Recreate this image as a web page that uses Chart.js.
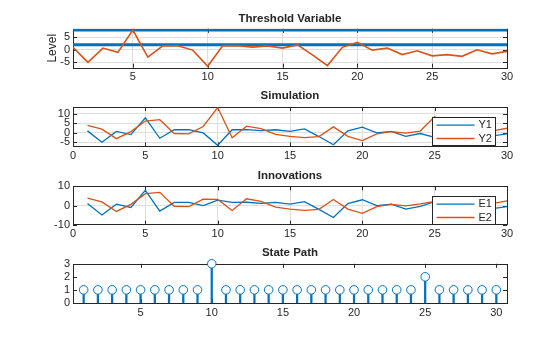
<!DOCTYPE html>
<html lang="en">
<head>
<meta charset="UTF-8" />
<title>Threshold model simulation</title>
<script src="https://cdn.jsdelivr.net/npm/chart.js"></script>
<style>
  body { margin: 0; background: #fff; }
  .fig { position: relative; width: 560px; height: 337px; }
  .fig canvas { position: absolute; left: 0; }
</style>
</head>
<body>
<div class="fig">
  <canvas id="cThresh" width="560" height="80" style="top:0px"></canvas>
  <canvas id="cSim" width="560" height="80" style="top:80px"></canvas>
  <canvas id="cInnov" width="560" height="80" style="top:160px"></canvas>
  <canvas id="cState" width="560" height="97" style="top:240px"></canvas>
</div>

<script>
  // values
  const steps = [1, 2, 3, 4, 5, 6, 7, 8, 9, 10, 11, 12, 13, 14, 15, 16, 17, 18, 19, 20, 21, 22, 23, 24, 25, 26, 27, 28, 29, 30];
  const simY1 = [1.0, -5.0, 0.7, -1.0, 7.9, -2.9, 1.6, 1.6, -0.1, -6.6, 1.6, 1.7, 1.1, 1.6, 0.7, 2.0, -2.0, -6.3, 1.0, 3.0, -0.1, 0.7, -1.9, -0.4, -2.4, -1.9, -2.6, 0.0, -1.6, -0.6];
  const simY2 = [3.9, 1.9, -3.1, 0.6, 6.2, 6.9, -0.4, -0.6, 3.3, 13.3, -2.6, 3.5, 2.2, -0.9, -1.9, -2.6, -2.0, 3.1, -1.9, -4.1, -0.6, 0.6, -0.2, 0.9, 8.5, 2.5, 1.8, 0.5, 1.0, 2.4];
  const innovE1 = [1.0, -5.0, 0.7, -1.0, 7.9, -2.9, 1.6, 1.6, -0.1, 2.8, 1.6, 1.7, 1.1, 1.6, 0.7, 2.0, -2.0, -6.3, 1.0, 3.0, -0.1, 0.7, -1.9, -0.4, 2.0, -1.9, -2.6, 0.0, -1.6, -0.6];
  const innovE2 = [3.9, 1.9, -3.1, 0.6, 6.2, 6.9, -0.4, -0.6, 3.3, 3.2, -2.6, 3.5, 2.2, -0.9, -1.9, -2.6, -2.0, 3.1, -1.9, -4.1, -0.6, 0.6, -0.2, 0.9, 2.2, 2.5, 1.8, 0.5, 1.0, 2.4];
  const statePath = [1, 1, 1, 1, 1, 1, 1, 1, 1, 3, 1, 1, 1, 1, 1, 1, 1, 1, 1, 1, 1, 1, 1, 1, 2, 1, 1, 1, 1, 1];
  const thresholdLevels = [2.0, 7.9];

  const xTicksThresh = [5, 10, 15, 20, 25, 30];
  const yTicksThresh = [-5, 0, 5];
  const xTicksSim = [0, 5, 10, 15, 20, 25, 30];
  const yTicksSim = [-5, 0, 5, 10];
  const xTicksInnov = [0, 5, 10, 15, 20, 25, 30];
  const yTicksInnov = [-10, 0, 10];
  const xTicksState = [5, 10, 15, 20, 25, 30];
  const yTicksState = [0, 1, 2, 3];

  const FONT = "'Liberation Sans', Arial, Helvetica, sans-serif";
  const INK = '#262626';
  const BLUE = '#0072BD';
  const ORANGE = '#D95319';
  const GRID = '#dedede';

  Chart.defaults.font.family = FONT;
  Chart.defaults.font.size = 11;
  Chart.defaults.color = INK;

  // black axes box with short inward ticks, like matlab
  const axesBox = {
    id: 'axesBox',
    beforeDatasetsDraw(chart) {
      const { ctx, chartArea: a, scales } = chart;
      const len = 4;
      ctx.save();
      ctx.strokeStyle = INK;
      ctx.lineWidth = 1;
      ctx.beginPath();
      scales.x.ticks.forEach(t => {
        const px = Math.round(scales.x.getPixelForValue(t.value)) + 0.5;
        ctx.moveTo(px, a.bottom); ctx.lineTo(px, a.bottom - len);
        ctx.moveTo(px, a.top); ctx.lineTo(px, a.top + len);
      });
      scales.y.ticks.forEach(t => {
        const py = Math.round(scales.y.getPixelForValue(t.value)) + 0.5;
        ctx.moveTo(a.left, py); ctx.lineTo(a.left + len, py);
        ctx.moveTo(a.right, py); ctx.lineTo(a.right - len, py);
      });
      ctx.stroke();
      ctx.strokeRect(Math.round(a.left) + 0.5, Math.round(a.top) + 0.5,
                     Math.round(a.right - a.left), Math.round(a.bottom - a.top));
      ctx.restore();
    }
  };

  // opaque legend box in the lower right corner
  const boxedLegend = {
    id: 'boxedLegend',
    afterDraw(chart) {
      const { ctx, chartArea: a } = chart;
      const w = 63, h = 28;
      const x0 = Math.round(a.right - 12 - w) + 0.5;
      const y0 = Math.round(a.bottom - 1 - h) + 0.5;
      ctx.save();
      ctx.fillStyle = '#fff';
      ctx.fillRect(x0, y0, w, h);
      ctx.strokeStyle = INK;
      ctx.lineWidth = 1;
      ctx.strokeRect(x0, y0, w, h);
      ctx.font = '11px ' + FONT;
      ctx.textBaseline = 'middle';
      ctx.textAlign = 'left';
      chart.data.datasets.forEach((d, i) => {
        const yy = y0 + h * (i === 0 ? 0.27 : 0.75);
        ctx.strokeStyle = d.borderColor;
        ctx.lineWidth = 1.3;
        ctx.beginPath();
        ctx.moveTo(x0 + 4, yy);
        ctx.lineTo(x0 + 42, yy);
        ctx.stroke();
        ctx.fillStyle = INK;
        ctx.fillText(d.label, x0 + 46, yy);
      });
      ctx.restore();
    }
  };

  function pts(ys) {
    return ys.map((y, i) => ({ x: steps[i], y: y }));
  }

  function xAxis(min, max, ticks, height, grid) {
    return {
      type: 'linear', min: min, max: max, offset: false,
      afterBuildTicks: s => { s.ticks = ticks.map(v => ({ value: v })); },
      afterFit: s => { s.height = height; },
      ticks: { padding: 3, autoSkip: false, maxRotation: 0, color: INK },
      grid: { display: grid, color: GRID, drawTicks: false },
      border: { display: false }
    };
  }

  function yAxis(min, max, ticks, grid, title) {
    return {
      type: 'linear', min: min, max: max,
      afterBuildTicks: s => { s.ticks = ticks.map(v => ({ value: v })); },
      afterFit: s => { s.width = 73; },
      ticks: { padding: 3, autoSkip: false, color: INK },
      grid: { display: grid, color: GRID, drawTicks: false },
      border: { display: false },
      title: title ? { display: true, text: title, color: INK, font: { size: 12 }, padding: { top: 45.5, bottom: 0 } } : { display: false }
    };
  }

  function opts(title, padTop, padBottom, x, y) {
    return {
      responsive: false,
      animation: false,
      events: [],
      layout: { padding: { left: 0, right: 53, top: 0, bottom: 0 } },
      plugins: {
        legend: { display: false },
        tooltip: { enabled: false },
        title: {
          display: true, text: title, fullSize: false, color: INK,
          font: { size: 11.5, weight: 'bold' },
          padding: { top: padTop, bottom: padBottom }
        }
      },
      scales: { x: x, y: y }
    };
  }

  // 1. threshold variable
  const threshSets = [{
    data: pts(simY1), borderColor: ORANGE, borderWidth: 1.6,
    pointRadius: 0, tension: 0
  }];
  thresholdLevels.forEach(t => {
    threshSets.push({
      data: [{ x: steps[0], y: t }, { x: steps[steps.length - 1], y: t }],
      borderColor: BLUE, borderWidth: 3, pointRadius: 0
    });
  });
  new Chart(document.getElementById('cThresh'), {
    type: 'line',
    data: { datasets: threshSets },
    options: opts('Threshold Variable', 11.6, 3.4,
      xAxis(1, 30, xTicksThresh, 12.3, true),
      yAxis(-7.15, 8.43, yTicksThresh, true, 'Level')),
    plugins: [axesBox]
  });

  // 2. simulation
  new Chart(document.getElementById('cSim'), {
    type: 'line',
    data: {
      datasets: [
        { label: 'Y1', data: pts(simY1), borderColor: BLUE, borderWidth: 1.3, pointRadius: 0, order: 1 },
        { label: 'Y2', data: pts(simY2), borderColor: ORANGE, borderWidth: 1.3, pointRadius: 0, order: 0 }
      ]
    },
    options: opts('Simulation', 9.1, 4.1,
      xAxis(0, 30, xTicksSim, 13.6, true),
      yAxis(-7.2, 13.6, yTicksSim, true)),
    plugins: [axesBox, boxedLegend]
  });

  // 3. innovations
  new Chart(document.getElementById('cInnov'), {
    type: 'line',
    data: {
      datasets: [
        { label: 'E1', data: pts(innovE1), borderColor: BLUE, borderWidth: 1.3, pointRadius: 0, order: 1 },
        { label: 'E2', data: pts(innovE2), borderColor: ORANGE, borderWidth: 1.3, pointRadius: 0, order: 0 }
      ]
    },
    options: opts('Innovations', 8.8, 3.8,
      xAxis(0, 30, xTicksInnov, 15.4, true),
      yAxis(-10, 10, yTicksInnov, true)),
    plugins: [axesBox, boxedLegend]
  });

  // 4. state path as stems: bars for the stems, white-filled circles on top
  new Chart(document.getElementById('cState'), {
    type: 'bar',
    data: {
      datasets: [
        {
          type: 'line', data: pts(statePath), showLine: false, clip: false,
          pointStyle: 'circle', pointRadius: 4.3, pointBorderWidth: 1,
          pointBorderColor: BLUE, pointBackgroundColor: '#fff', order: 0
        },
        {
          type: 'bar', data: pts(statePath), backgroundColor: BLUE,
          barThickness: 1.6, borderWidth: 0, order: 1
        }
      ]
    },
    options: opts('State Path', 6.1, 3.9,
      xAxis(0.25, 30.75, xTicksState, 34.1, false),
      yAxis(0, 3, yTicksState, false)),
    plugins: [axesBox]
  });
</script>
</body>
</html>
